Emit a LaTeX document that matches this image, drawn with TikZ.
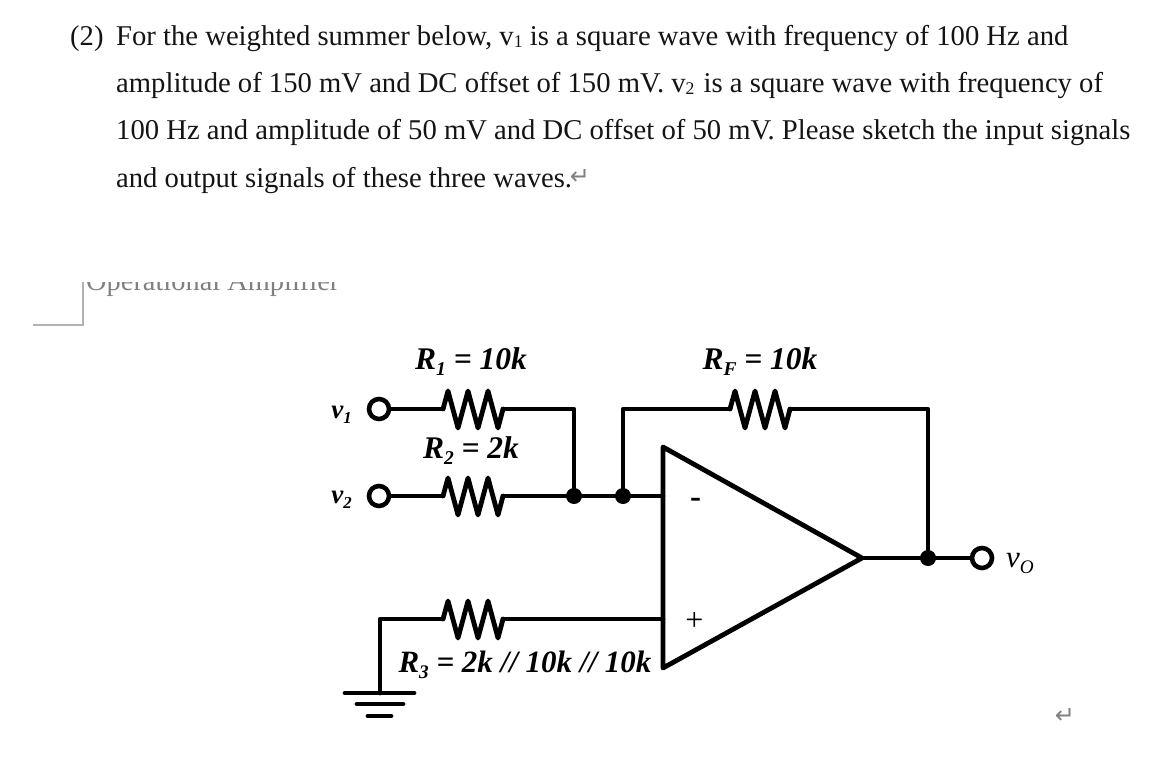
\documentclass[tikz,border=0pt]{standalone}
\usepackage{fontspec}
\setmainfont{Liberation Serif}
\newfontfamily\arrowfont{DejaVu Sans}
\newcommand{\lowtxt}[1]{\raisebox{-0.22em}{\scalebox{0.62}{#1}}}
\newcommand{\bodylow}[1]{\raisebox{-0.04em}{\scalebox{0.62}{#1}}}
\newcommand{\retmark}{{\arrowfont\symbol{"21B5}}}
\tikzset{
  wire/.style={line width=4.8pt,line join=round,line cap=round,black},
  para/.style={anchor=base west,inner sep=0pt,font=\fontsize{28.65}{28.65}\selectfont,text=black!92},
  lab/.style={inner sep=0pt,anchor=base,font=\fontsize{31.5}{31.5}\selectfont\bfseries\itshape},
  term/.style={circle,draw,line width=4.6pt,fill=white,minimum size=20pt,inner sep=0pt},
  dot/.style={circle,fill=black,minimum size=16pt,inner sep=0pt},
  retm/.style={inner sep=0pt,text=black!50,font=\fontsize{24}{24}\selectfont}
}
\newcommand{\zig}[2]{\draw[wire] (#1) -- ++(5,-18) -- ++(10,37) -- ++(10,-37) -- ++(10,37) -- ++(10,-37) -- ++(10,37) -- (#2);}
\begin{document}
\begin{tikzpicture}[x=1pt,y=-1pt]
\useasboundingbox (0,0) rectangle (1162,773);
% paragraph
\node[para] (t0) at (70,46) {(2)};
\node[para] (t1) at (116,46) {For the weighted summer below, v\bodylow{1} is a square wave with frequency of 100 Hz and};
\node[para] (t2) at (116,93) {amplitude of 150 mV and DC offset of 150 mV. v\bodylow{2}\hspace{2pt} is a square wave with frequency of};
\node[para] (t3) at (116,140) {100 Hz and amplitude of 50 mV and DC offset of 50 mV. Please sketch the input signals};
\node[para] (t4) at (116,187) {and output signals of these three waves.};
\node[retm] (rm1) at (580,177) {\retmark};
\node[retm] (rm2) at (1065,716) {\retmark};
% clipped heading and page corner
\begin{scope}
\clip (80,282) rectangle (400,300);
\node[inner sep=0pt,anchor=base west,text=black!50,font=\fontsize{28.4}{28.4}\selectfont] (hd) at (86,290) {Operational Amplifier};
\end{scope}
\coordinate (c1) at (33,325);
\coordinate (c2) at (83,325);
\coordinate (c3) at (83,282);
\draw[black!30,line width=1.2pt] (c1) -- (c2) -- (c3);
% coordinates
\coordinate (oat) at (663,447);
\coordinate (oab) at (663,668);
\coordinate (oao) at (862,558);
\coordinate (inm) at (663,496);
\coordinate (inp) at (663,619);
\coordinate (r1a) at (443,409);
\coordinate (r1b) at (503,409);
\coordinate (r2a) at (443,496);
\coordinate (r2b) at (503,496);
\coordinate (r3a) at (443,619);
\coordinate (r3b) at (503,619);
\coordinate (rfa) at (730,409);
\coordinate (rfb) at (790,409);
\coordinate (n1c) at (574,409);
\coordinate (n2c) at (623,409);
\coordinate (n3c) at (928,409);
\coordinate (gc) at (380,619);
\coordinate (g0) at (380,693);
\coordinate (g1a) at (345,693);
\coordinate (g1b) at (414,693);
\coordinate (g2a) at (357,704);
\coordinate (g2b) at (403,704);
\coordinate (g3a) at (368,716);
\coordinate (g3b) at (391,716);
% nodes
\node[term] (v1) at (379,409) {};
\node[term] (v2) at (379,496) {};
\node[term] (vo) at (982,558) {};
\node[dot] (j1) at (574,496) {};
\node[dot] (j2) at (623,496) {};
\node[dot] (j3) at (928,558) {};
% wires
\draw[wire] (v1) -- (r1a);
\zig{r1a}{r1b}
\draw[wire] (r1b) -- (n1c) -- (j1);
\draw[wire] (v2) -- (r2a);
\zig{r2a}{r2b}
\draw[wire] (r2b) -- (j1) -- (j2) -- (inm);
\draw[wire] (j2) -- (n2c) -- (rfa);
\zig{rfa}{rfb}
\draw[wire] (rfb) -- (n3c) -- (j3);
\draw[wire] (oao) -- (j3) -- (vo);
\draw[wire] (g0) -- (gc) -- (r3a);
\zig{r3a}{r3b}
\draw[wire] (r3b) -- (inp);
\draw[wire] (oat) -- (oab) -- (oao) -- cycle;
\draw[wire] (g1a) -- (g1b);
\draw[wire] (g2a) -- (g2b);
\draw[wire] (g3a) -- (g3b);
% labels
\node[lab] (lr1) at (471,369) {R\lowtxt{1} = 10k};
\node[lab] (lrf) at (760,369) {R\lowtxt{F} = 10k};
\node[lab] (lr2) at (471,458) {R\lowtxt{2} = 2k};
\node[lab,font=\fontsize{31}{31}\selectfont\bfseries\itshape] (lr3) at (525,672) {R\lowtxt{3} = 2k // 10k // 10k};
\node[lab,font=\fontsize{27}{27}\selectfont\bfseries\itshape] (lv1) at (341.5,418) {v\lowtxt{1}};
\node[lab,font=\fontsize{27}{27}\selectfont\bfseries\itshape] (lv2) at (341.5,503) {v\lowtxt{2}};
\node[lab,font=\fontsize{31}{31}\selectfont\itshape] (lvo) at (1020,567) {v\lowtxt{O}};
\node[lab,font=\fontsize{33}{33}\selectfont\bfseries] (mn) at (695.5,507.5) {-};
\node[lab,font=\fontsize{32}{32}\selectfont,text=black] (pl) at (694.5,630) {+};
\end{tikzpicture}
\end{document}
